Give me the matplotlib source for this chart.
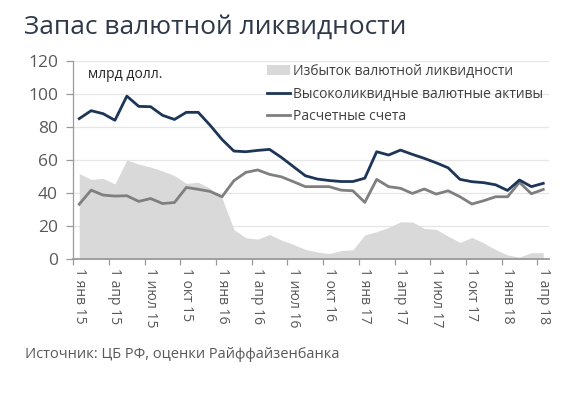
"""Запас валютной ликвидности: monthly FX liquidity, Jan 2015 - Apr 2018."""

import matplotlib

matplotlib.use("Agg")
import matplotlib.pyplot as plt
from matplotlib.patches import Patch
from matplotlib.lines import Line2D
import numpy as np

plt.rcParams.update(
    {
        "font.family": ["Open Sans", "DejaVu Sans"],
        "font.size": 10,
        "figure.facecolor": "white",
    }
)

C = {
    "title": "#2e3849",
    "text": "#404040",
    "muted": "#595959",
    "grid": "#e6e6e6",
    "axis": "#9a9a9a",
    "area": "#d9d9d9",
    "blue": "#1d3557",
    "gray": "#7f7f7f",
}

# monthly values, mlrd USD (Jan 15 .. Apr 18)
excess = [
    51.8, 48.3, 48.9, 45.5, 60.0, 57.5, 55.7, 53.4, 50.6, 45.9,
    46.5, 42.9, 37.0, 18.0, 13.0, 12.2, 15.0, 11.6, 9.0, 6.0,
    4.4, 3.5, 5.2, 5.8, 14.7, 16.7, 19.2, 22.6, 22.6, 18.6,
    18.1, 14.0, 10.2, 13.2, 9.9, 5.8, 2.6, 1.3, 4.0, 4.0,
]
liquid_assets = [
    85.0, 89.8, 88.0, 84.0, 98.6, 92.4, 92.2, 87.0, 84.5, 88.8,
    88.8, 81.0, 72.4, 65.4, 65.0, 65.8, 66.4, 61.5, 56.0, 50.5,
    48.5, 47.6, 47.0, 47.0, 49.0, 65.0, 63.0, 66.0, 63.4, 61.0,
    58.3, 55.3, 48.3, 46.9, 46.3, 45.0, 41.6, 47.9, 43.9, 45.9,
]
settlement = [
    33.3, 41.8, 38.8, 38.2, 38.4, 35.0, 36.7, 33.7, 34.3, 43.4,
    42.3, 41.0, 37.8, 47.5, 52.5, 54.0, 51.3, 49.8, 46.9, 43.9,
    43.9, 43.9, 41.8, 41.4, 34.4, 48.3, 43.9, 42.9, 39.8, 42.5,
    39.4, 41.4, 37.8, 33.4, 35.4, 37.8, 37.8, 46.5, 39.6, 42.2,
]
tick_labels = [
    "1 янв 15", "1 апр 15", "1 июл 15", "1 окт 15",
    "1 янв 16", "1 апр 16", "1 июл 16", "1 окт 16",
    "1 янв 17", "1 апр 17", "1 июл 17", "1 окт 17",
    "1 янв 18", "1 апр 18",
]
legend_labels = [
    "Избыток валютной ликвидности",
    "Высоколиквидные валютные активы",
    "Расчетные счета",
]


def main() -> None:
    W, H = 580, 396
    fig = plt.figure(figsize=(W / 100, H / 100), dpi=100)
    x0, x1, y0, y1 = 73.3, 549.2, 60.7, 259.3
    ax = fig.add_axes([x0 / W, 1 - y1 / H, (x1 - x0) / W, (y1 - y0) / H])

    x = np.arange(len(excess))
    ax.fill_between(x, 0, excess, color=C["area"], lw=0, zorder=2)
    ax.plot(x, liquid_assets, color=C["blue"], lw=2.0, zorder=4)
    ax.plot(x, settlement, color=C["gray"], lw=2.0, zorder=3)

    ax.set_xlim(-0.5, len(excess) - 0.5)
    ax.set_ylim(0, 120)
    ax.set_yticks(np.arange(0, 121, 20))
    ax.yaxis.grid(True, color=C["grid"], lw=0.9, zorder=0)
    ax.set_axisbelow(True)

    # labels at category centres, tick marks at category boundaries
    centres = x[::3]
    ax.set_xticks(centres)
    ax.set_xticklabels(tick_labels, rotation=-90, ha="center", va="top")
    ax.set_xticks(centres - 0.5, minor=True)
    ax.tick_params(axis="x", which="major", length=0, pad=6.3, labelsize=10, labelcolor=C["muted"])
    ax.tick_params(axis="x", which="minor", length=4, width=0.9, color=C["axis"])
    ax.tick_params(axis="y", length=5, width=0.9, color=C["axis"], pad=6, labelsize=12.5, labelcolor=C["muted"])

    for side in ("top", "right"):
        ax.spines[side].set_visible(False)
    ax.spines["left"].set_color(C["axis"])
    ax.spines["left"].set_linewidth(0.9)
    ax.spines["bottom"].set_color(C["axis"])
    ax.spines["bottom"].set_linewidth(1.3)

    ax.text(88 / W, 1 - 74 / H, "млрд долл.", transform=fig.transFigure,
            ha="left", va="center", fontsize=10, color="#262626")

    handles = [
        Patch(facecolor=C["area"], edgecolor="none"),
        Line2D([0], [0], color=C["blue"], lw=2.0),
        Line2D([0], [0], color=C["gray"], lw=2.0),
    ]
    ax.legend(
        handles,
        legend_labels,
        loc="upper left",
        bbox_to_anchor=(267 / W, 1 - 64 / H),
        bbox_transform=fig.transFigure,
        frameon=False,
        fontsize=10,
        labelcolor=C["text"],
        handlelength=1.65,
        handletextpad=0.2,
        labelspacing=0.55,
        borderaxespad=0,
        borderpad=0,
    )

    fig.text(24 / W, 1 - 27 / H, "Запас валютной ликвидности", ha="left", va="center",
             fontsize=19, color=C["title"])
    fig.text(25 / W, 1 - 354 / H, "Источник: ЦБ РФ, оценки Райффайзенбанка", ha="left",
             va="center", fontsize=10.5, color=C["muted"])

    fig.savefig("out.png", dpi=100)
    plt.close(fig)


if __name__ == "__main__":
    main()
